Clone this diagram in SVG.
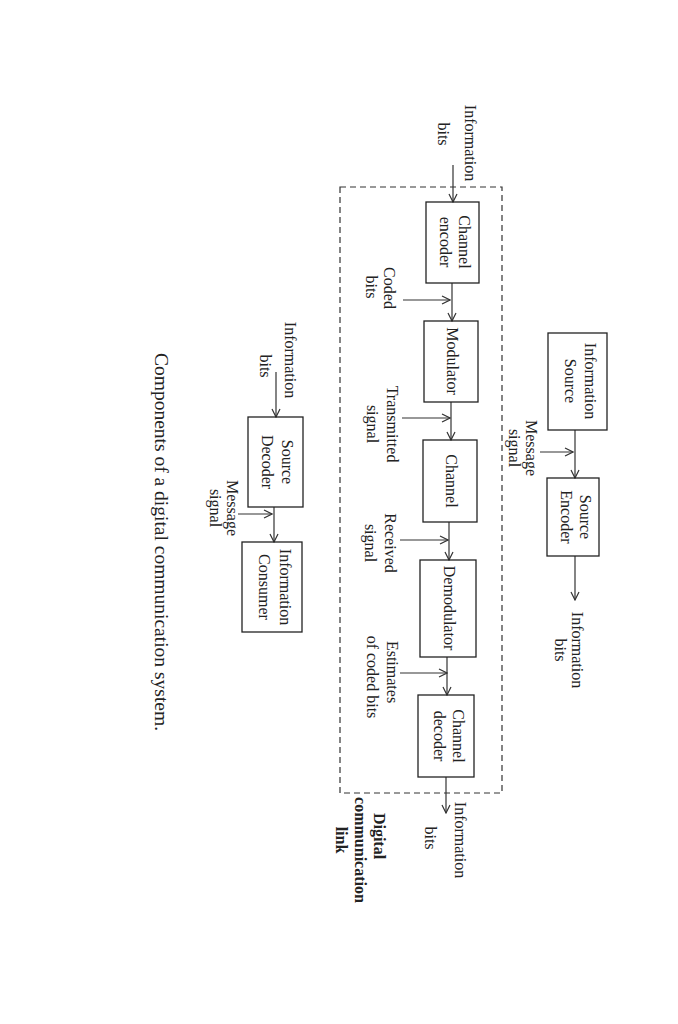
<svg xmlns="http://www.w3.org/2000/svg" width="678" height="1024" viewBox="0 0 678 1024">
<style>
text{font-family:"Liberation Serif",serif;font-size:16px;fill:#222;text-anchor:middle}
.b{font-weight:bold}
.box{fill:none;stroke:#222;stroke-width:1.3}
.ln{stroke:#333;stroke-width:1.2;fill:none}
.cap{font-size:19.5px}
</style>
<defs>
<marker id="ah" markerWidth="10" markerHeight="10" refX="9" refY="5" orient="auto" markerUnits="userSpaceOnUse"><path d="M1,1 L9,5 L1,9" fill="none" stroke="#333" stroke-width="1.2"/></marker>
</defs>
<rect width="678" height="1024" fill="#fff"/>
<g id="link-boundary"><rect x="340" y="187" width="162" height="606" fill="none" stroke="#333" stroke-width="1.2" stroke-dasharray="6,4"/>
<text class="b" transform="translate(374,836) rotate(90)">Digital</text><text class="b" transform="translate(355,850) rotate(90)">communication</text><text class="b" transform="translate(336,840) rotate(90)">link</text></g>
<g id="connectors">
<path class="ln" marker-end="url(#ah)" d="M453,165 V202"/>
<path class="ln" marker-end="url(#ah)" d="M452,283 V321"/>
<path class="ln" marker-end="url(#ah)" d="M403,300 H450"/>
<path class="ln" marker-end="url(#ah)" d="M451,402 V440"/>
<path class="ln" marker-end="url(#ah)" d="M402,418 H450"/>
<path class="ln" marker-end="url(#ah)" d="M449,522 V560"/>
<path class="ln" marker-end="url(#ah)" d="M400,540 H448"/>
<path class="ln" marker-end="url(#ah)" d="M447,657 V695"/>
<path class="ln" marker-end="url(#ah)" d="M400,673 H447"/>
<path class="ln" marker-end="url(#ah)" d="M446,777 V813"/>
<path class="ln" marker-end="url(#ah)" d="M575,430 V478"/>
<path class="ln" marker-end="url(#ah)" d="M540,452 H573"/>
<path class="ln" marker-end="url(#ah)" d="M575,556 V600"/>
<path class="ln" marker-end="url(#ah)" d="M276,372 V417"/>
<path class="ln" marker-end="url(#ah)" d="M274,507 V542"/>
<path class="ln" marker-end="url(#ah)" d="M238,514 H272"/>
</g>
<g id="labels">
<text transform="translate(465,143) rotate(90)">Information</text><text transform="translate(438,134) rotate(90)">bits</text>
<text transform="translate(384,288) rotate(90)">Coded</text><text transform="translate(366,287) rotate(90)">bits</text>
<text transform="translate(387,424) rotate(90)">Transmitted</text><text transform="translate(367,424) rotate(90)">signal</text>
<text transform="translate(385,543) rotate(90)">Received</text><text transform="translate(365,543) rotate(90)">signal</text>
<text transform="translate(387,672) rotate(90)">Estimates</text><text transform="translate(367,677) rotate(90)">of coded bits</text>
<text transform="translate(455,840) rotate(90)">Information</text><text transform="translate(425,838) rotate(90)">bits</text>
<text transform="translate(526,448) rotate(90)">Message</text><text transform="translate(509,448) rotate(90)">signal</text>
<text transform="translate(572,650) rotate(90)">Information</text><text transform="translate(555,650) rotate(90)">bits</text>
<text transform="translate(285,360) rotate(90)">Information</text><text transform="translate(260,366) rotate(90)">bits</text>
<text transform="translate(227,508) rotate(90)">Message</text><text transform="translate(210,508) rotate(90)">signal</text>
<text class="cap" transform="translate(155,542) rotate(90)">Components of a digital communication system.</text>
</g>
<g id="channel-encoder"><rect class="box" x="426" y="202" width="53" height="81"/><text transform="translate(459,242) rotate(90)">Channel</text><text transform="translate(440,242) rotate(90)">encoder</text></g>
<g id="modulator"><rect class="box" x="424" y="321" width="54" height="81"/><text transform="translate(447,361) rotate(90)">Modulator</text></g>
<g id="channel"><rect class="box" x="423" y="440" width="54" height="82"/><text transform="translate(446,481) rotate(90)">Channel</text></g>
<g id="demodulator"><rect class="box" x="420" y="560" width="56" height="97"/><text transform="translate(444,608) rotate(90)">Demodulator</text></g>
<g id="channel-decoder"><rect class="box" x="418" y="695" width="56" height="82"/><text transform="translate(453,736) rotate(90)">Channel</text><text transform="translate(434,736) rotate(90)">decoder</text></g>
<g id="information-source"><rect class="box" x="548" y="333" width="59" height="97"/><text transform="translate(585,381) rotate(90)">Information</text><text transform="translate(565,381) rotate(90)">Source</text></g>
<g id="source-encoder"><rect class="box" x="547" y="478" width="52" height="78"/><text transform="translate(580,517) rotate(90)">Source</text><text transform="translate(561,517) rotate(90)">Encoder</text></g>
<g id="source-decoder"><rect class="box" x="248" y="417" width="55" height="90"/><text transform="translate(282,462) rotate(90)">Source</text><text transform="translate(262,462) rotate(90)">Decoder</text></g>
<g id="information-consumer"><rect class="box" x="242" y="542" width="60" height="90"/><text transform="translate(280,587) rotate(90)">Information</text><text transform="translate(259,587) rotate(90)">Consumer</text></g>
</svg>
